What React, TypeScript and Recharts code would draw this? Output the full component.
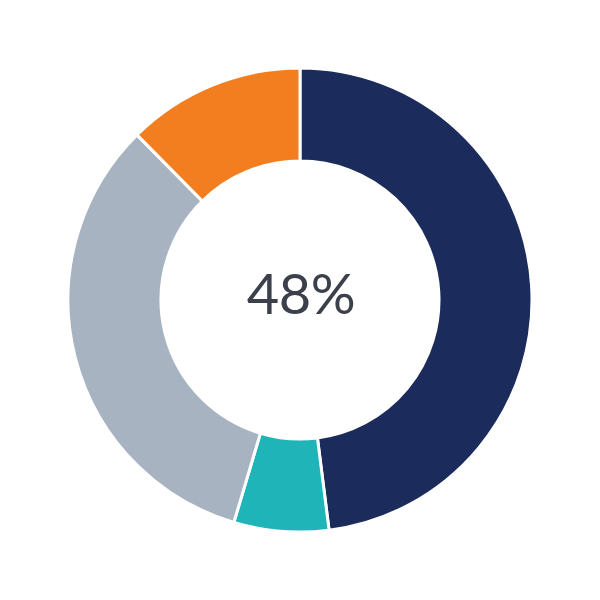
import React from "react";
import { PieChart, Pie, Cell } from "recharts";

const categories = ["A", "B", "C", "D"];
const values = [48, 6.6, 33, 12.4];
const colors = ["#1b2b5b", "#1fb4b8", "#a8b3c1", "#f37e20"];
const centerLabel = "48%";

const data = categories.map((name, i) => ({ name, value: values[i] }));

export default function App() {
  return (
    <div style={{ position: "fixed", left: 0, top: 0, width: 600, height: 600, background: "#fff" }}>
      <PieChart width={600} height={600} margin={{ top: 0, right: 0, bottom: 0, left: 0 }}>
        <Pie
          data={data}
          dataKey="value"
          cx="50%"
          cy="50%"
          innerRadius={139}
          outerRadius={232}
          startAngle={90}
          endAngle={-270}
          stroke="#ffffff"
          strokeWidth={3}
          isAnimationActive={false}
        >
          {data.map((d, i) => (
            <Cell key={d.name} fill={colors[i]} />
          ))}
        </Pie>
        <text
          x={301}
          y={292}
          textAnchor="middle"
          dominantBaseline="central"
          fontFamily="Lato, sans-serif"
          fontSize={56}
          letterSpacing={-0.5}
          fill="#3b404a"
        >
          {centerLabel}
        </text>
      </PieChart>
    </div>
  );
}
